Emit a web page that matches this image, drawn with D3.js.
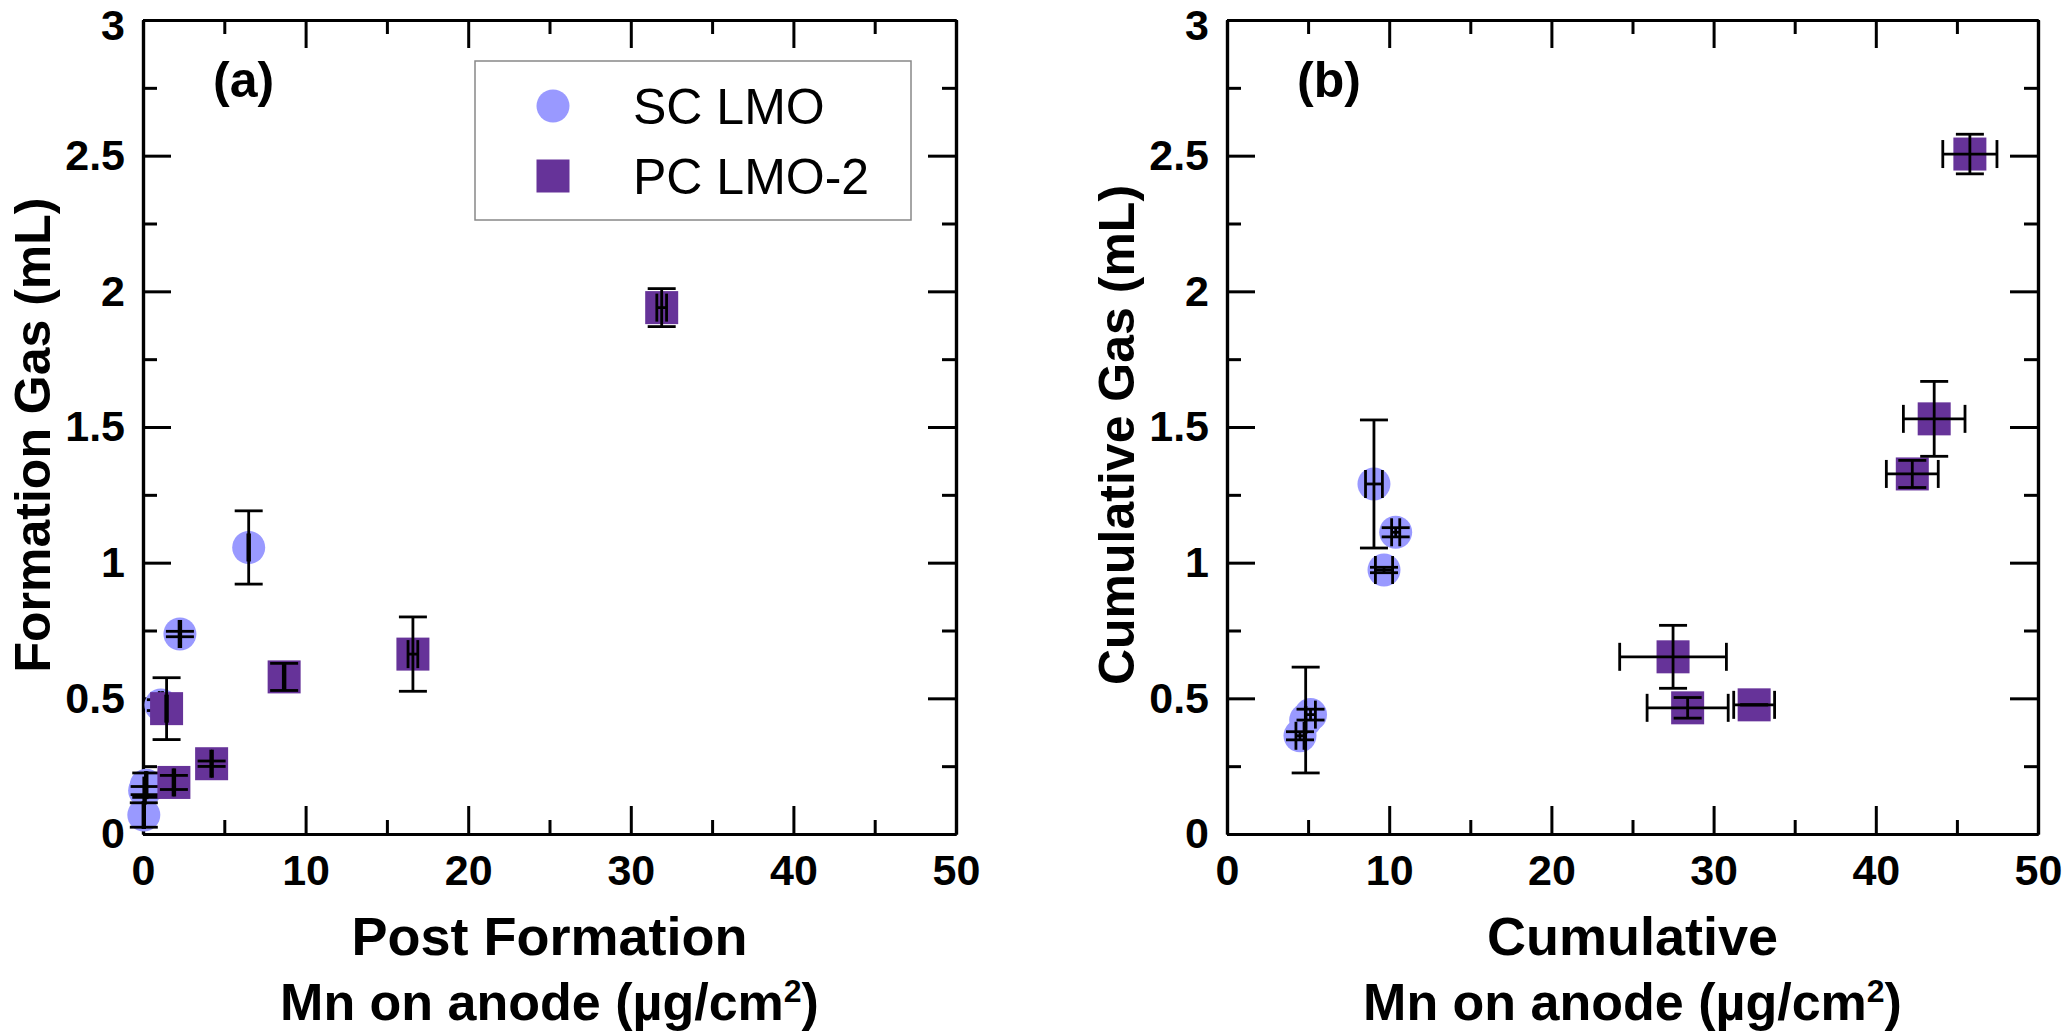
<!DOCTYPE html>
<html>
<head>
<meta charset="utf-8">
<script src="https://cdn.jsdelivr.net/npm/d3@7"></script>
<style>
  html, body { margin: 0; padding: 0; background: #fff; }
  svg { display: block; }
  text { font-family: "Liberation Sans", Arial, Helvetica, sans-serif; }
</style>
</head>
<body>
<svg id="chart" width="2066" height="1031"></svg>
<script>
// ---------------- data ----------------
const seriesNames = ["SC LMO", "PC LMO-2"];
const seriesColors = ["#9999ff", "#663399"];

// Panel (a): post-formation Mn on anode vs formation gas
const aSC_x   = [6.5, 2.27, 1.1, 0.2, 0.1, 0.05];
const aSC_y   = [1.056, 0.737, 0.475, 0.18, 0.16, 0.07];
const aSC_xe  = [0.05, 0.05, 0.1, 0.05, 0.05, 0.05];
const aSC_ye  = [0.135, 0.01, 0.02, 0.045, 0.015, 0.045];

const aPC_x   = [31.9, 16.6, 8.68, 1.45, 4.22, 1.9];
const aPC_y   = [1.94, 0.663, 0.579, 0.462, 0.259, 0.19];
const aPC_xe  = [0.3, 0.3, 0.05, 0.05, 0.05, 0.05];
const aPC_ye  = [0.07, 0.137, 0.05, 0.114, 0.01, 0.026];

// Panel (b): cumulative Mn on anode vs cumulative gas
const bSC_x   = [9.06, 10.4, 9.68, 4.5, 5.15, 4.85];
const bSC_y   = [1.29, 1.112, 0.973, 0.362, 0.44, 0.42];
const bSC_xe  = [0.52, 0.25, 0.53, 0.25, 0.3, 0.02];
const bSC_ye  = [0.236, 0.017, 0.01, 0.015, 0.02, 0.195];

const bPC_x   = [45.8, 43.6, 42.25, 27.5, 28.4, 32.5];
const bPC_y   = [2.506, 1.53, 1.327, 0.653, 0.465, 0.476];
const bPC_xe  = [1.67, 1.9, 1.6, 3.29, 2.5, 1.26];
const bPC_ye  = [0.073, 0.138, 0.05, 0.116, 0.038, 0.0];

const xMajorTicks = [0, 10, 20, 30, 40, 50];
const xMinorTicks = [5, 15, 25, 35, 45];
const yMajorTicks = [0, 0.5, 1, 1.5, 2, 2.5, 3];
const yMinorTicks = [0.25, 0.75, 1.25, 1.75, 2.25, 2.75];
const yTickLabels = ["0", "0.5", "1", "1.5", "2", "2.5", "3"];

const panels = [
  { tag: "(a)", yTitle: "Formation Gas (mL)", xTitle1: "Post Formation",
    left: 143, right: 956,
    sc: [aSC_x, aSC_y, aSC_xe, aSC_ye], pc: [aPC_x, aPC_y, aPC_xe, aPC_ye], legend: true },
  { tag: "(b)", yTitle: "Cumulative Gas (mL)", xTitle1: "Cumulative",
    left: 1227, right: 2038,
    sc: [bSC_x, bSC_y, bSC_xe, bSC_ye], pc: [bPC_x, bPC_y, bPC_xe, bPC_ye], legend: false }
];

// ---------------- drawing ----------------
const svg = d3.select("#chart");
const plotTop = 20, plotBottom = 834;
const major = 28, minor = 14, cap = 14;
const markR = 16.5, sq = 33;

function zip(arr) {
  return arr[0].map((_, i) => ({ x: arr[0][i], y: arr[1][i], xe: arr[2][i], ye: arr[3][i] }));
}

panels.forEach(p => {
  const x = d3.scaleLinear().domain([0, 50]).range([p.left, p.right]);
  const y = d3.scaleLinear().domain([0, 3]).range([plotBottom, plotTop]);
  const g = svg.append("g");

  function styleAxis(sel) {
    sel.selectAll(".domain").attr("stroke", "#000").attr("stroke-width", 3.2);
    sel.selectAll(".tick line").attr("stroke", "#000").attr("stroke-width", 3);
    sel.selectAll("text").attr("fill", "#000")
      .style("font-family", '"Liberation Sans", Arial, sans-serif')
      .style("font-weight", "bold").style("font-size", "43px");
  }

  // bottom
  g.append("g").attr("transform", `translate(0,${plotBottom})`)
    .call(d3.axisBottom(x).tickValues(xMajorTicks).tickSizeInner(-major).tickSizeOuter(0)
      .tickPadding(20).tickFormat(d3.format("d")))
    .call(styleAxis);
  g.append("g").attr("transform", `translate(0,${plotBottom})`)
    .call(d3.axisBottom(x).tickValues(xMinorTicks).tickSizeInner(-minor).tickSizeOuter(0).tickFormat(""))
    .call(styleAxis);
  // top
  g.append("g").attr("transform", `translate(0,${plotTop})`)
    .call(d3.axisTop(x).tickValues(xMajorTicks).tickSizeInner(-major).tickSizeOuter(0).tickFormat(""))
    .call(styleAxis);
  g.append("g").attr("transform", `translate(0,${plotTop})`)
    .call(d3.axisTop(x).tickValues(xMinorTicks).tickSizeInner(-minor).tickSizeOuter(0).tickFormat(""))
    .call(styleAxis);
  // left
  const leftAxis = g.append("g").attr("transform", `translate(${p.left},0)`)
    .call(d3.axisLeft(y).tickValues(yMajorTicks).tickSizeInner(-major).tickSizeOuter(0)
      .tickPadding(18).tickFormat((d, i) => yTickLabels[i]))
    .call(styleAxis);
  // keep the topmost label inside the picture
  leftAxis.selectAll(".tick text").filter(d => d === 3).attr("dy", "0.45em");
  g.append("g").attr("transform", `translate(${p.left},0)`)
    .call(d3.axisLeft(y).tickValues(yMinorTicks).tickSizeInner(-minor).tickSizeOuter(0).tickFormat(""))
    .call(styleAxis);
  // right
  g.append("g").attr("transform", `translate(${p.right},0)`)
    .call(d3.axisRight(y).tickValues(yMajorTicks).tickSizeInner(-major).tickSizeOuter(0).tickFormat(""))
    .call(styleAxis);
  g.append("g").attr("transform", `translate(${p.right},0)`)
    .call(d3.axisRight(y).tickValues(yMinorTicks).tickSizeInner(-minor).tickSizeOuter(0).tickFormat(""))
    .call(styleAxis);

  // markers
  const sc = zip(p.sc), pc = zip(p.pc);

  function errorBars(data) {
    const eb = g.append("g").attr("stroke", "#000").attr("stroke-width", 2.8).attr("fill", "none");
    data.forEach(d => {
      const cx = x(d.x), cy = y(d.y);
      const xl = x(d.x - d.xe), xr = x(d.x + d.xe);
      const yt = y(d.y + d.ye), yb = y(d.y - d.ye);
      eb.append("line").attr("x1", xl).attr("x2", xr).attr("y1", cy).attr("y2", cy);
      eb.append("line").attr("x1", xl).attr("x2", xl).attr("y1", cy - cap).attr("y2", cy + cap);
      eb.append("line").attr("x1", xr).attr("x2", xr).attr("y1", cy - cap).attr("y2", cy + cap);
      eb.append("line").attr("x1", cx).attr("x2", cx).attr("y1", yt).attr("y2", yb);
      eb.append("line").attr("x1", cx - cap).attr("x2", cx + cap).attr("y1", yt).attr("y2", yt);
      eb.append("line").attr("x1", cx - cap).attr("x2", cx + cap).attr("y1", yb).attr("y2", yb);
    });
  }

  g.append("g").selectAll("circle").data(sc).join("circle")
    .attr("cx", d => x(d.x)).attr("cy", d => y(d.y)).attr("r", markR)
    .attr("fill", seriesColors[0]);
  errorBars(sc);
  g.append("g").selectAll("rect").data(pc).join("rect")
    .attr("x", d => x(d.x) - sq / 2).attr("y", d => y(d.y) - sq / 2)
    .attr("width", sq).attr("height", sq)
    .attr("fill", seriesColors[1]);
  errorBars(pc);

  // panel tag
  g.append("text").attr("x", p.left + 70).attr("y", 97)
    .style("font-weight", "bold").style("font-size", "50px").text(p.tag);

  // y title
  g.append("text")
    .attr("transform", `translate(${p.left - 110},435) rotate(-90)`)
    .attr("text-anchor", "middle").attr("dominant-baseline", "central")
    .style("font-weight", "bold").style("font-size", "50px").text(p.yTitle);

  // x titles
  const cxT = (p.left + p.right) / 2;
  g.append("text").attr("x", cxT).attr("y", 955).attr("text-anchor", "middle")
    .style("font-weight", "bold").style("font-size", "54px").text(p.xTitle1);
  const t2 = g.append("text").attr("x", cxT).attr("y", 1020).attr("text-anchor", "middle")
    .style("font-weight", "bold").style("font-size", "52px");
  t2.append("tspan").text("Mn on anode (µg/cm");
  t2.append("tspan").attr("dy", -18).style("font-size", "32px").text("2");
  t2.append("tspan").attr("dy", 18).text(")");

  // legend
  if (p.legend) {
    const lg = g.append("g");
    lg.append("rect").attr("x", 475).attr("y", 61).attr("width", 436).attr("height", 159)
      .attr("fill", "#fff").attr("stroke", "#888").attr("stroke-width", 1.5);
    lg.append("circle").attr("cx", 553).attr("cy", 106).attr("r", markR).attr("fill", seriesColors[0]);
    lg.append("rect").attr("x", 553 - sq / 2).attr("y", 176 - sq / 2).attr("width", sq).attr("height", sq)
      .attr("fill", seriesColors[1]);
    lg.append("text").attr("x", 633).attr("y", 124).style("font-size", "50px").text(seriesNames[0]);
    lg.append("text").attr("x", 633).attr("y", 194).style("font-size", "50px").text(seriesNames[1]);
  }
});
</script>
</body>
</html>
